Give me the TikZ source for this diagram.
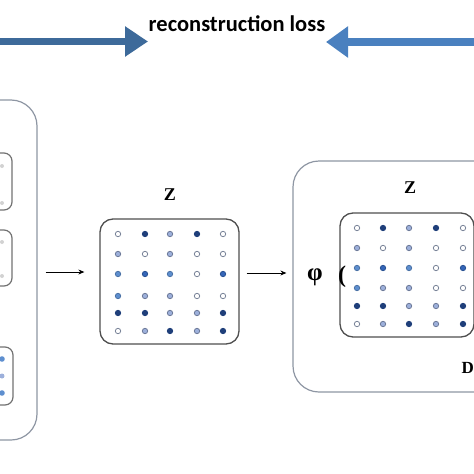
\documentclass[tikz,border=0pt]{standalone}
\usepackage{fontspec}
\setmainfont{Liberation Serif}
\newfontfamily\carlito{Carlito}
\usetikzlibrary{arrows.meta}
\definecolor{arrL}{HTML}{3D6A9A}
\definecolor{arrR}{HTML}{4A80BF}
\definecolor{outerc}{HTML}{8E96A3}
\definecolor{innerc}{HTML}{4F4F4F}
\definecolor{ringc}{HTML}{7A8499}
\definecolor{dotLc}{HTML}{9DB0DB}
\definecolor{dotMc}{HTML}{5E8FCF}
\definecolor{dotBc}{HTML}{3566B8}
\definecolor{dotDc}{HTML}{1F3F7A}
\tikzset{
  outerbox/.style={draw=outerc, line width=1.2pt, rounded corners=26pt, inner sep=0pt},
  gridbox/.style={draw=innerc, line width=1.3pt, rounded corners=13pt, inner sep=0pt, minimum width=137pt, minimum height=124pt},
  smallbox/.style={draw=innerc!80, line width=1.2pt, rounded corners=8pt, inner sep=0pt, minimum width=40pt},
  lbl/.style={font=\bfseries\fontsize{18}{18}\selectfont, inner sep=0pt},
  conn/.style={line width=0.8pt, -{Stealth[length=6pt,width=5pt]}},
  dotbase/.style={draw=ringc, line width=0.8pt},
  dO/.style={dotbase, fill=white},
  dL/.style={dotbase, fill=dotLc, draw=dotLc!70!black},
  dM/.style={dotbase, fill=dotMc, draw=dotMc!80!black},
  dB/.style={dotbase, fill=dotBc, draw=dotBc!80!black},
  dD/.style={dotbase, fill=dotDc, draw=dotDc},
}
\begin{document}
\begin{tikzpicture}[x=1pt,y=-1pt]
\useasboundingbox (0,0) rectangle (474,474);
\clip (0,0) rectangle (474,474);
% top
\node[font=\carlito\bfseries\fontsize{22.5}{22.5}\selectfont, inner sep=0pt] (title) at (237,24) {reconstruction loss};
\coordinate (ls) at (-5,41.5);
\coordinate (lt) at (148,41.5);
\coordinate (rs) at (480,42);
\coordinate (rt) at (326,42);
\draw[arrL, line width=7.5pt, -{Triangle[length=23pt,width=29pt]}] (ls) -- (lt);
\draw[arrR, line width=7.5pt, -{Triangle[length=22pt,width=30pt]}] (rs) -- (rt);
% left box
\node[outerbox, minimum width=80pt, minimum height=340pt] (left) at (-3,270) {};
\node[smallbox, minimum height=57pt] (s1) at (-8,181.5) {};
\node[smallbox, minimum height=56pt] (s2) at (-8,258) {};
\node[smallbox, minimum height=58pt] (s3) at (-7,376) {};
\fill[gray!35] (2,166) circle (2pt) (2,203) circle (2pt) (2,242) circle (2pt) (2,276) circle (2pt);
\fill[dotMc] (2,359) circle (2.8pt) (2,393) circle (2.8pt);
\fill[dotLc] (2,376) circle (2.5pt);
% middle
\node[lbl] (z1) at (170,195) {Z};
\node[gridbox, minimum width=139pt, minimum height=125pt] (zmid) at (169.5,281.5) {};
% right
\node[outerbox, minimum width=230pt, minimum height=231pt] (right) at (408,276.5) {};
\node[lbl] (z2) at (410,188) {Z};
\node[gridbox, minimum width=134pt, minimum height=124pt] (zin) at (407,275) {};
\node[font=\bfseries\fontsize{25}{25}\selectfont, inner sep=0pt] (phi) at (315,277) {φ};
\node[font=\bfseries\fontsize{24}{24}\selectfont, inner sep=0pt] (par) at (342,277) {(};
\node[font=\bfseries\fontsize{17}{17}\selectfont, inner sep=0pt, anchor=west] (dec) at (461.5,367.5) {D};
% connectors
\draw[conn, shorten <=8pt, shorten >=15pt] (left.east |- 0,272) -- (zmid.west |- 0,272);
\draw[conn, shorten <=7pt, shorten >=6pt] (zmid.east |- 0,273) -- (right.west |- 0,273);
% dots
\foreach \st [count=\r] in {{dO,dD,dL,dD,dO},{dL,dO,dL,dO,dO},{dM,dB,dM,dO,dB},{dM,dL,dL,dO,dO},{dD,dD,dL,dL,dD},{dO,dL,dD,dL,dD}}{
  \foreach \sty [count=\c] in \st {
    \pgfmathsetmacro{\ym}{{234,254,274,296,313,331}[\r-1]}
    \pgfmathsetmacro{\xm}{{118,145,170,197,223}[\c-1]}
    \pgfmathsetmacro{\yr}{{228,248,268,288,306,324}[\r-1]}
    \pgfmathsetmacro{\xr}{{357,383,409,436,463}[\c-1]}
    \draw[\sty] (\xm,\ym) circle (2.7pt);
    \draw[\sty] (\xr,\yr) circle (2.7pt);
  }
}
\end{tikzpicture}
\end{document}
